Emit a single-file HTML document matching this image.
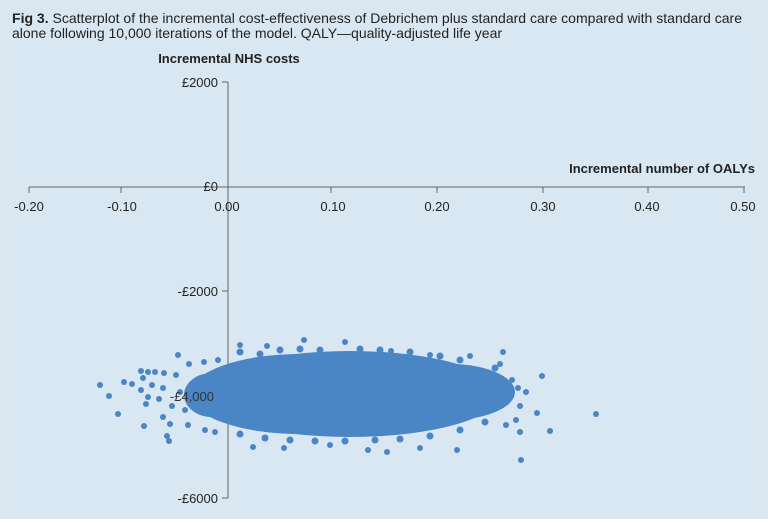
<!DOCTYPE html>
<html><head><meta charset="utf-8"><style>
html,body{margin:0;padding:0;background:#fff}
body{width:768px;height:519px;overflow:hidden;font-family:"Liberation Sans",sans-serif}
</style></head><body>
<svg width="768" height="519" xmlns="http://www.w3.org/2000/svg" font-family="Liberation Sans, sans-serif">
<rect x="2" y="2" width="764" height="515" fill="#d9e7f2"/>
<text x="12" y="23" font-size="14" fill="#222" textLength="730" lengthAdjust="spacingAndGlyphs"><tspan font-weight="bold">Fig 3.</tspan> Scatterplot of the incremental cost-effectiveness of Debrichem plus standard care compared with standard care</text>
<text x="12" y="38" font-size="14" fill="#222">alone following 10,000 iterations of the model. QALY—quality-adjusted life year</text>
<text x="229" y="63" font-size="13" font-weight="bold" text-anchor="middle" fill="#222">Incremental NHS costs</text>
<text x="755" y="173" font-size="13" font-weight="bold" text-anchor="end" fill="#222">Incremental number of OALYs</text>
<g stroke="#666" stroke-width="1" fill="none">
<line x1="228" y1="82" x2="228" y2="498"/>
<line x1="29" y1="187" x2="745" y2="187"/>
<line x1="222" y1="82" x2="228" y2="82"/>
<line x1="222" y1="498" x2="228" y2="498"/>
<line x1="222" y1="291" x2="228" y2="291"/>
<line x1="29" y1="187" x2="29" y2="193"/><line x1="121" y1="187" x2="121" y2="193"/>
<line x1="331" y1="187" x2="331" y2="193"/><line x1="437" y1="187" x2="437" y2="193"/>
<line x1="543" y1="187" x2="543" y2="193"/><line x1="648" y1="187" x2="648" y2="193"/>
<line x1="744" y1="187" x2="744" y2="193"/>
</g>
<g font-size="13" fill="#222" text-anchor="middle">
<text x="29" y="211">-0.20</text><text x="122" y="211">-0.10</text><text x="227" y="211">0.00</text>
<text x="333" y="211">0.10</text><text x="437" y="211">0.20</text><text x="543" y="211">0.30</text>
<text x="647" y="211">0.40</text><text x="743" y="211">0.50</text>
</g>
<g font-size="13" fill="#222" text-anchor="end">
<text x="218" y="87">£2000</text><text x="218" y="191">£0</text>
<text x="218" y="296">-£2000</text><text x="218" y="503">-£6000</text>
</g>
<g fill="#4a86c5">
<ellipse cx="350" cy="394" rx="150" ry="43"/>
<ellipse cx="300" cy="394" rx="110" ry="40"/>
<ellipse cx="450" cy="392" rx="65" ry="28"/>
<ellipse cx="212" cy="395" rx="28" ry="22"/>
<g>
<circle cx="240" cy="352" r="3.5"/><circle cx="260" cy="354" r="3.5"/><circle cx="280" cy="350" r="3.5"/><circle cx="300" cy="349" r="3.5"/><circle cx="320" cy="350" r="3.5"/><circle cx="360" cy="349" r="3.5"/><circle cx="380" cy="350" r="3.5"/><circle cx="410" cy="352" r="3.5"/><circle cx="440" cy="356" r="3.5"/><circle cx="460" cy="360" r="3.5"/>
<circle cx="240" cy="434" r="3.5"/><circle cx="265" cy="438" r="3.5"/><circle cx="290" cy="440" r="3.5"/><circle cx="315" cy="441" r="3.5"/><circle cx="345" cy="441" r="3.5"/><circle cx="375" cy="440" r="3.5"/><circle cx="400" cy="439" r="3.5"/><circle cx="430" cy="436" r="3.5"/><circle cx="460" cy="430" r="3.5"/><circle cx="485" cy="422" r="3.5"/><circle cx="495" cy="368" r="3.5"/>
</g>
<circle cx="100" cy="385" r="3"/><circle cx="109" cy="396" r="3"/><circle cx="118" cy="414" r="3"/>
<circle cx="124" cy="382" r="3"/><circle cx="132" cy="384" r="3"/><circle cx="141" cy="371" r="3"/>
<circle cx="143" cy="378" r="3"/><circle cx="141" cy="390" r="3"/><circle cx="146" cy="404" r="3"/>
<circle cx="148" cy="397" r="3"/><circle cx="144" cy="426" r="3"/><circle cx="148" cy="372" r="3"/>
<circle cx="155" cy="372" r="3"/><circle cx="152" cy="385" r="3"/><circle cx="159" cy="399" r="3"/>
<circle cx="163" cy="388" r="3"/><circle cx="164" cy="373" r="3"/><circle cx="163" cy="417" r="3"/>
<circle cx="167" cy="436" r="3"/><circle cx="169" cy="441" r="3"/><circle cx="170" cy="424" r="3"/>
<circle cx="172" cy="406" r="3"/><circle cx="178" cy="355" r="3"/><circle cx="176" cy="375" r="3"/>
<circle cx="180" cy="392" r="3"/><circle cx="185" cy="410" r="3"/><circle cx="188" cy="425" r="3"/>
<circle cx="189" cy="364" r="3"/><circle cx="204" cy="362" r="3"/><circle cx="205" cy="430" r="3"/>
<circle cx="215" cy="432" r="3"/><circle cx="218" cy="360" r="3"/>
<circle cx="240" cy="345" r="3"/><circle cx="267" cy="346" r="3"/><circle cx="304" cy="340" r="3"/>
<circle cx="345" cy="342" r="3"/><circle cx="391" cy="351" r="3"/><circle cx="430" cy="355" r="3"/>
<circle cx="253" cy="447" r="3"/><circle cx="284" cy="448" r="3"/><circle cx="330" cy="445" r="3"/>
<circle cx="368" cy="450" r="3"/><circle cx="387" cy="452" r="3"/><circle cx="420" cy="448" r="3"/>
<circle cx="457" cy="450" r="3"/><circle cx="470" cy="356" r="3"/><circle cx="500" cy="364" r="3"/>
<circle cx="503" cy="352" r="3"/><circle cx="512" cy="380" r="3"/><circle cx="518" cy="388" r="3"/>
<circle cx="520" cy="406" r="3"/><circle cx="526" cy="392" r="3"/><circle cx="516" cy="420" r="3"/>
<circle cx="520" cy="432" r="3"/><circle cx="506" cy="425" r="3"/><circle cx="542" cy="376" r="3"/>
<circle cx="537" cy="413" r="3"/><circle cx="550" cy="431" r="3"/><circle cx="521" cy="460" r="3"/>
<circle cx="596" cy="414" r="3"/>
</g>
<text x="214" y="401" font-size="13" fill="#333" text-anchor="end">-£4,000</text>
<rect x="1" y="1" width="766" height="517" fill="none" stroke="#bcd" stroke-width="1"/>
</svg>
</body></html>
